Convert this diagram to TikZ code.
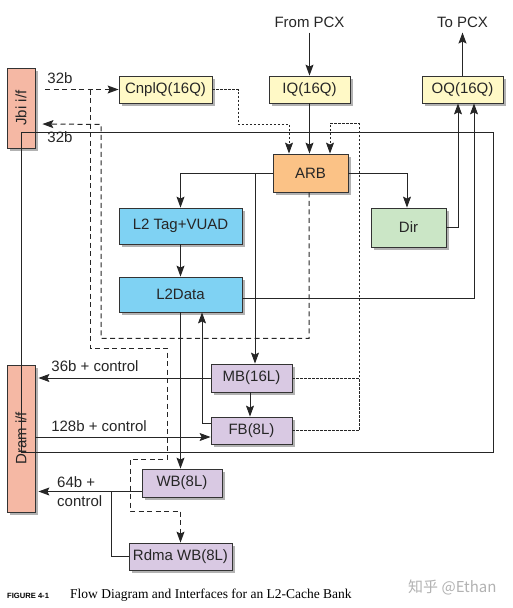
\documentclass[tikz,border=0pt]{standalone}
\usepackage{fontspec}
\setmainfont{Liberation Serif}
\setsansfont{Liberation Sans}
\newfontfamily\cjk{Noto Sans CJK SC}
\usepackage{xcolor}
\usepackage{tikz}
\usetikzlibrary{arrows.meta,shadows}
\definecolor{saumon}{HTML}{F5B8A4}
\definecolor{creme}{HTML}{FFF9C6}
\definecolor{abricot}{HTML}{FBC286}
\definecolor{ciel}{HTML}{7FD2F3}
\definecolor{vert}{HTML}{CBE6C6}
\definecolor{lilas}{HTML}{D9C9E3}

\begin{document}
\begin{tikzpicture}[x=1pt,y=-1pt]
% Styles (MODIFIABLES)
\tikzstyle{ligne}=[line width=1pt,draw=black!85]
\tikzstyle{fleche}=[ligne,-{Stealth[length=11pt,width=8pt,inset=2pt]}]
\tikzstyle{tirets}=[dash pattern=on 5pt off 3.5pt]
\tikzstyle{pointilles}=[dash pattern=on 2.5pt off 1.5pt]
\tikzstyle{boite}=[draw=black!80,line width=0.8pt,text=black!85,inner sep=0pt,
  font=\sffamily\fontsize{15}{18}\selectfont,
  drop shadow={shadow xshift=2.5pt,shadow yshift=-2.5pt,fill=black,opacity=0.3}]
\tikzstyle{texte}=[font=\sffamily\fontsize{15}{18}\selectfont,text=black!85,inner sep=1pt]
% Cadre
\useasboundingbox (0,0) rectangle (512,608);
% Noeuds
\node[boite,fill=saumon,minimum width=28pt,minimum height=80pt] (Jbi) at (21,108) {\rotatebox{90}{Jbi i/f}};
\node[boite,fill=saumon,minimum width=28pt,minimum height=147pt] (Dram) at (21,438.5) {\rotatebox{90}{Dram i/f}};
\node[boite,fill=creme,minimum width=93pt,minimum height=27pt] (CnplQ) at (165.5,89.5) {CnplQ(16Q)};
\node[boite,fill=creme,minimum width=81pt,minimum height=27pt] (IQ) at (309.5,89.5) {IQ(16Q)};
\node[boite,fill=creme,minimum width=81pt,minimum height=27pt] (OQ) at (462.5,89.5) {OQ(16Q)};
\node[boite,fill=abricot,minimum width=75pt,minimum height=38pt] (ARB) at (310.5,173) {ARB};
\node[boite,fill=ciel,minimum width=123pt,minimum height=36pt] (Tag) at (180.5,226) {L2 Tag+VUAD};
\node[boite,fill=ciel,minimum width=123pt,minimum height=35pt] (Data) at (180.5,294.5) {L2Data};
\node[boite,fill=vert,minimum width=75pt,minimum height=39pt] (Dir) at (408.5,227.5) {Dir};
\node[boite,fill=lilas,minimum width=81pt,minimum height=28pt] (MB) at (251.5,378) {MB(16L)};
\node[boite,fill=lilas,minimum width=81pt,minimum height=27pt] (FB) at (251.5,430.5) {FB(8L)};
\node[boite,fill=lilas,minimum width=80pt,minimum height=28pt] (WB) at (182,483) {WB(8L)};
\node[boite,fill=lilas,minimum width=103pt,minimum height=27pt] (Rdma) at (180.5,556.5) {Rdma WB(8L)};
% Textes
\node[texte] (FromPCX) at (309.5,22) {From PCX};
\node[texte] (ToPCX) at (462.5,22) {To PCX};
\node[texte] (Jbi32a) at (60,78) {32b};
\node[texte] (Jbi32b) at (60,137) {32b};
\node[texte] (Dram36) at (95,366) {36b + control};
\node[texte] (Dram128) at (99,426) {128b + control};
\node[texte,anchor=west] (Dram64a) at (56,482) {64b +};
\node[texte,anchor=west] (Dram64b) at (56,501) {control};
\node[anchor=base west,inner sep=0pt,font=\sffamily\bfseries\fontsize{7.6}{9}\selectfont] (Figure) at (7,598) {FIGURE 4-1};
\node[anchor=base west,inner sep=0pt,font=\fontsize{13.5}{16}\selectfont] (Legende) at (70,598) {Flow Diagram and Interfaces for an L2-Cache Bank};
\node[anchor=base west,inner sep=0pt,text=black!30,font=\cjk\fontsize{15}{18}\selectfont] (Filigrane) at (408,592) {知乎 @Ethan};
% Points de passage
\coordinate (Branche) at (90,89.5);
\coordinate (Rdma64) at (111,491.5);
% Arcs
\draw[fleche,shorten <=4pt] (FromPCX) -- (IQ);
\draw[fleche,shorten >=4pt] (OQ) -- (ToPCX);
\draw[fleche] (IQ) -- (IQ |- ARB.north);
\draw[fleche,pointilles] (CnplQ.east) -- ++(26,0) -- ++(0,34.5) -| ([xshift=-21.5pt]ARB.north);
\draw[fleche,pointilles] (MB.east) -- ++(67,0) |- ([xshift=19.5pt,yshift=30pt]ARB.north) -- ([xshift=19.5pt]ARB.north);
\draw[ligne,pointilles] (FB.east) -- ++(67,0) -- ++(0,-52.5);
\draw[fleche,tirets,shorten <=10pt] (Jbi.east |- CnplQ.west) -- (CnplQ.west);
\draw[fleche,tirets,shorten >=7pt] ([xshift=-1.5pt]ARB.south) -- ++(0,146) -| ++(-208,-214) -- (Jbi.east |- 0,124);
\draw[fleche,tirets] (Branche) -- ++(0,258.5) -- ++(77,0) -- ++(0,111) -- ++(-37,0) -- ++(0,52) -| (Rdma.north);
\draw[fleche] (ARB.west) -| (Tag.north);
\draw[fleche] (ARB.west) -| ([xshift=3.5pt]MB.north);
\draw[fleche] (ARB.east) -| ([xshift=-1.5pt]Dir.north);
\draw[fleche] (Tag) -- (Data);
\draw[fleche] (Dir.east) -| ([xshift=-4.5pt]OQ.south);
\draw[fleche] ([yshift=-3.5pt]Data.east) -| ([xshift=11.5pt]OQ.south);
\draw[fleche] (Data.south) -- (Data.south |- WB.north);
\draw[fleche] ([xshift=-1.5pt]MB.south) -- ([xshift=-1.5pt]FB.north);
\draw[fleche] ([yshift=7.5pt]FB.west) -| ([xshift=21.5pt]Data.south);
\draw[fleche,shorten >=3pt] (MB.west) -- (MB.west -| Dram.east);
\draw[fleche] (Dram.east |- 0,437) -- (FB.west |- 0,437);
\draw[fleche,shorten >=3pt] (Rdma64 -| WB.west) -- (Rdma64 -| Dram.east);
\draw[ligne] (Rdma.west) -| (Rdma64);
\draw[ligne] (Jbi.center |- 0,132) rectangle (493,452.5);
\end{tikzpicture}
\end{document}
